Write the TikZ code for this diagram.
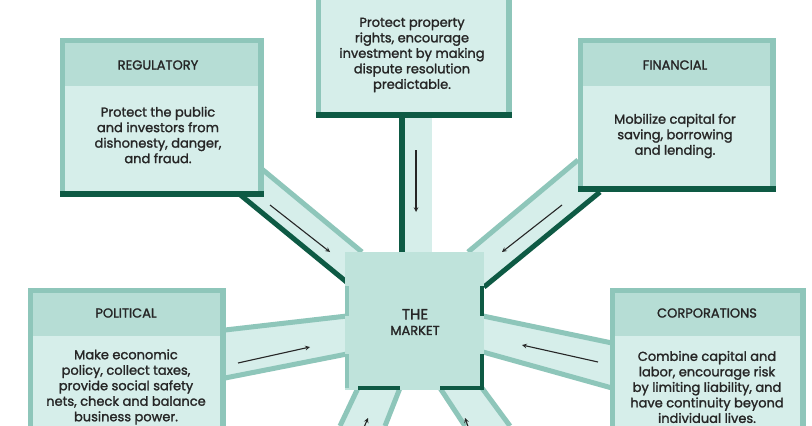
\documentclass[tikz,border=0pt]{standalone}
\usepackage{fontspec}
\setmainfont{Poppins}[FakeBold=1.6]
\begin{document}
\begin{tikzpicture}[x=1pt,y=-1pt,
  every node/.style={font=\fontsize{13}{15.5}\selectfont, text=black!85, align=center},
  stem/.style={fill=body},
  arr/.style={-stealth, line width=1.1pt, black!85}]
\definecolor{body}{HTML}{D6EEEA}
\definecolor{head}{HTML}{B6DDD5}
\definecolor{bev}{HTML}{8EC6BA}
\definecolor{dark}{HTML}{0E5A44}
\definecolor{mkt}{HTML}{BFE3DB}
\useasboundingbox (0,0) rectangle (812,426);
\fill[white] (0,0) rectangle (812,426);
% stems
\fill[body] (402,110) rectangle (432,255);
\draw[dark,line width=6pt] (402,112) -- (402,252);
\fill[body] (238,190) -- (257,165) -- (362,252) -- (350,285) -- cycle;
\draw[bev,line width=5pt] (257,165) -- (362,252);
\draw[dark,line width=5pt] (238,193) -- (349,284);
\fill[body] (578,160) -- (600,192) -- (484,287) -- (468,252) -- cycle;
\draw[bev,line width=5pt] (578,160) -- (468,252);
\draw[dark,line width=5pt] (600,192) -- (484,287);
\fill[body] (225,330) -- (347,316) -- (347,354) -- (225,378) -- cycle;
\draw[bev,line width=5pt] (225,330) -- (347,316);
\draw[bev,line width=5pt] (225,378) -- (347,354);
\fill[body] (483,316) -- (612,343) -- (612,388) -- (483,352) -- cycle;
\draw[bev,line width=5pt] (483,316) -- (612,343);
\draw[bev,line width=5pt] (483,352) -- (612,388);
\fill[body] (358,388) -- (400,388) -- (385,426) -- (340,426) -- cycle;
\draw[bev,line width=5pt] (358,388) -- (340,426);
\draw[bev,line width=5pt] (400,388) -- (385,426);
\fill[body] (440,388) -- (482,388) -- (510,426) -- (465,426) -- cycle;
\draw[bev,line width=5pt] (440,388) -- (465,426);
\draw[bev,line width=5pt] (482,388) -- (510,426);
% market
\fill[mkt] (345,252) rectangle (484,390);
\draw[bev,line width=4pt] (347,286) -- (347,316) (347,354) -- (347,388);
\draw[dark,line width=4pt] (482,286) -- (482,316) (482,354) -- (482,388) -- (440,388) (400,388) -- (358,388);
\node (mkt) at (415,322) {\fontsize{15}{19}\selectfont THE\\MARKET};
% boxes
\newcommand{\gbox}[6]{% x1 y1 x2 y2 headbottom name
  \fill[bev] (#1,#2) rectangle (#3,#4);
  \fill[head] (#1+5,#2+5) rectangle (#3-6,#5);
  \fill[body] (#1+5,#5) rectangle (#3-6,#4-6);
  \fill[dark] (#1,#4-6) rectangle (#3,#4);
}
\gbox{60}{38}{264}{197}{86}{r}
\gbox{316}{-10}{512}{118}{-5}{t}
\gbox{578}{38}{776}{192}{86}{f}
\gbox{28}{288}{226}{440}{336}{p}
\gbox{610}{288}{806}{440}{336}{c}
\draw[dark,line width=6pt] (402,112) -- (402,118);
\node (rh) at (158,65) {REGULATORY};
\node (rb) at (158,135) {Protect the public\\and investors from\\dishonesty, danger,\\and fraud.};
\node (tb) at (412,55) {Protect property\\rights, encourage\\investment by making\\dispute resolution\\predictable.};
\node (fh) at (675,65) {FINANCIAL};
\node (fb) at (675,136) {Mobilize capital for\\saving, borrowing\\and lending.};
\node (ph) at (126,313) {POLITICAL};
\node (pb) at (126,387) {Make economic\\policy, collect taxes,\\provide social safety\\nets, check and balance\\business power.};
\node (ch) at (707,313) {CORPORATIONS};
\node (cb) at (707,387) {Combine capital and\\labor, encourage risk\\by limiting liability, and\\have continuity beyond\\individual lives.};
% arrows
\coordinate (a1) at (270,205); \coordinate (a2) at (330,252);
\coordinate (b1) at (416,150); \coordinate (b2) at (416,212);
\coordinate (c1) at (562,205); \coordinate (c2) at (502,252);
\coordinate (d1) at (238,363); \coordinate (d2) at (310,347);
\coordinate (e1) at (598,362); \coordinate (e2) at (522,345);
\coordinate (g1) at (362,432); \coordinate (g2) at (368,418);
\coordinate (h1) at (470,432); \coordinate (h2) at (465,418);
\draw[arr] (a1) -- (a2); \draw[arr] (b1) -- (b2); \draw[arr] (c1) -- (c2);
\draw[arr] (d1) -- (d2); \draw[arr] (e1) -- (e2);
\draw[arr] (g1) -- (g2); \draw[arr] (h1) -- (h2);
\end{tikzpicture}
\end{document}
